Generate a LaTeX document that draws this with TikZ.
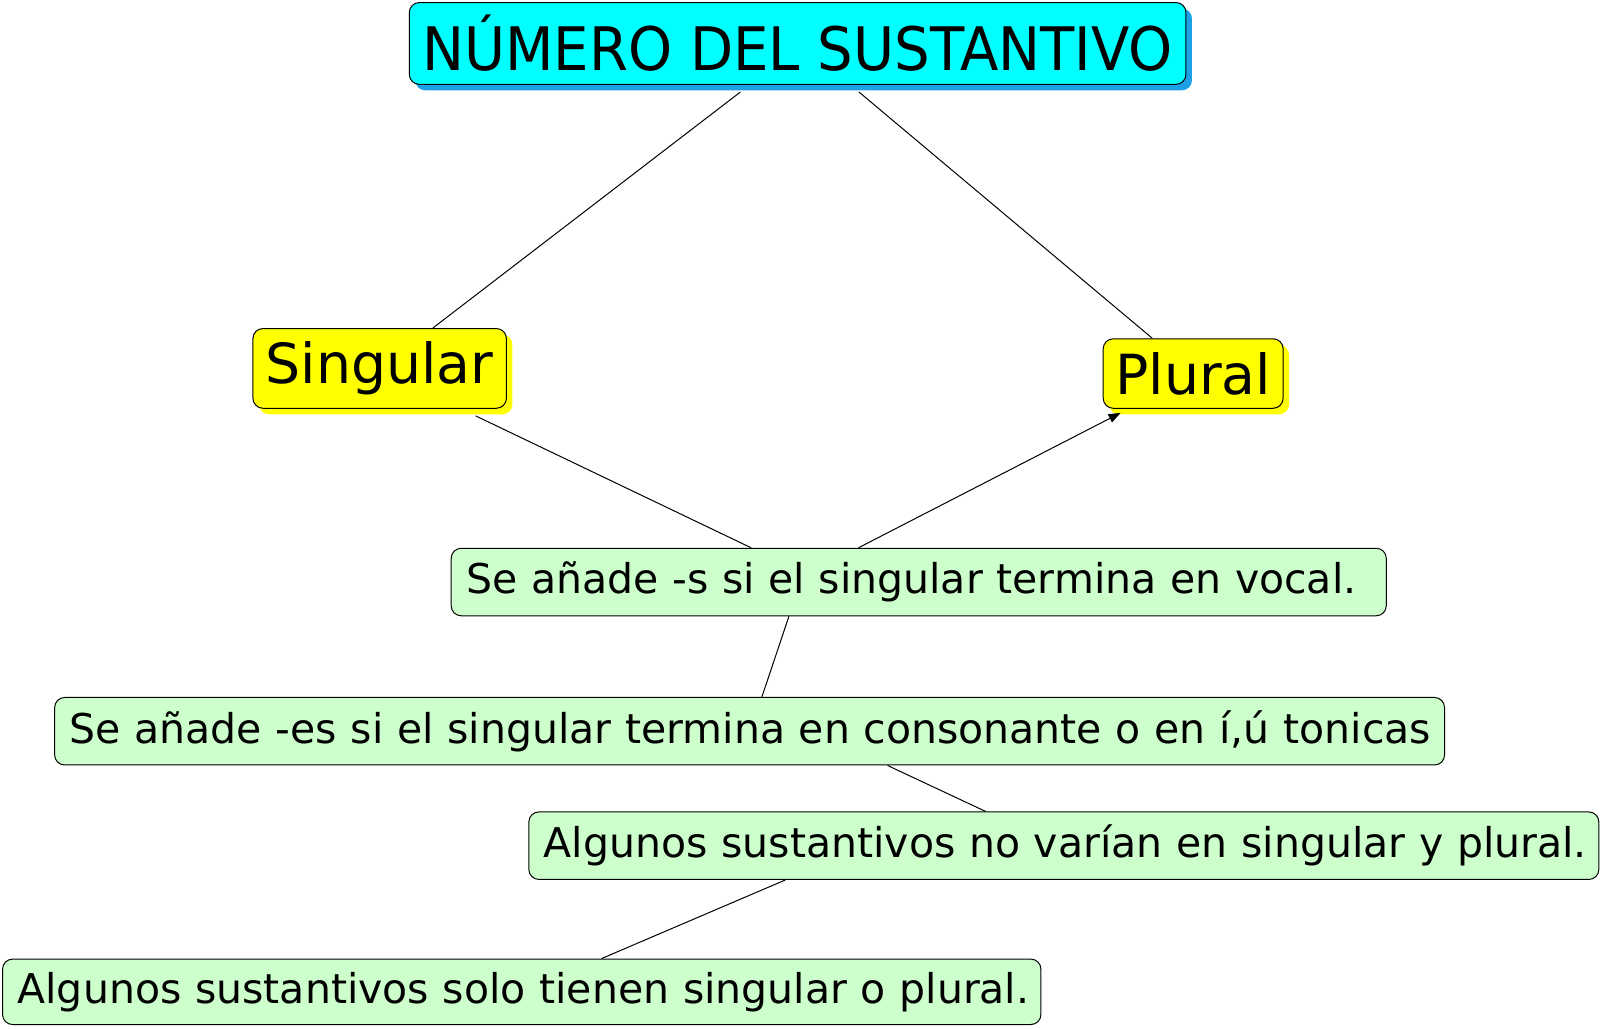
\documentclass[tikz,border=0pt]{standalone}
\usepackage{fontspec}
\setmainfont{DejaVu Sans}
\usetikzlibrary{shadows,arrows.meta}
\definecolor{titlecyan}{RGB}{0,255,255}
\definecolor{titleshadow}{RGB}{30,160,230}
\definecolor{boxyellow}{RGB}{255,255,0}
\definecolor{boxgreen}{RGB}{204,255,204}
\tikzset{
  base/.style={draw=black, line width=1pt, rounded corners=10pt, anchor=north west, inner sep=0pt, text=black},
  titlebox/.style={base, fill=titlecyan, drop shadow={shadow xshift=6pt, shadow yshift=-6pt, fill=titleshadow, opacity=1}, font=\fontsize{60}{66}\selectfont},
  yellowbox/.style={base, fill=boxyellow, drop shadow={shadow xshift=6pt, shadow yshift=-6pt, fill=boxyellow, opacity=1}, font=\fontsize{55.3}{60}\selectfont},
  greenbox/.style={base, fill=boxgreen, font=\fontsize{41}{46}\selectfont, align=left, inner xsep=15pt},
  link/.style={draw=black, line width=1pt},
}
\begin{document}
\begin{tikzpicture}[x=1.022pt,y=-1.022pt]
\useasboundingbox (0,0) rectangle (1565.6,1006.8);
\node[titlebox, minimum width=776.7, minimum height=81.8] (title) at (400,2) {\scalebox{0.935}[1]{NÚMERO DEL SUSTANTIVO}};
\node[yellowbox, minimum width=253.5, minimum height=79.7] (sing) at (247,321) {Singular};
\node[yellowbox, minimum width=179.9, minimum height=69.5] (plur) at (1079,331) {Plural};
\node[greenbox, text width=905.1pt, minimum height=67.5] (a) at (441,536) {\mbox{Se añade -s si el singular termina en vocal.}};
\node[greenbox, text width=1359.9pt, minimum height=67.5] (b) at (53,682) {\mbox{Se añade -es si el singular termina en consonante o en í,ú tonicas}};
\node[greenbox, text width=1040pt, minimum height=67.5] (c) at (517,794) {\mbox{Algunos sustantivos no varían en singular y plural.}};
\node[greenbox, text width=1008.4pt, minimum height=65.4] (d) at (2,938) {\mbox{Algunos sustantivos solo tienen singular o plural.}};
\coordinate (j1) at (735,536);
\coordinate (j2) at (840,536);
\draw[link] ([shift={(-56,7)}]title.south) -- ([shift={(52,0)}]sing.north);
\draw[link] ([shift={(60,7)}]title.south) -- ([shift={(-40,0)}]plur.north);
\draw[link] ([shift={(94,7)}]sing.south) -- (j1);
\draw[link,-{Triangle[length=12pt,width=9pt]}] (j2) -- ([shift={(-71,4)}]plur.south);
\draw[link] ([shift={(-127,0)}]a.south) -- ([shift={(12,0)}]b.north);
\draw[link] ([shift={(135,0)}]b.south) -- ([shift={(-76.5,0)}]c.north);
\draw[link] ([shift={(-272.5,0)}]c.south) -- ([shift={(78,0)}]d.north);
\end{tikzpicture}
\end{document}
